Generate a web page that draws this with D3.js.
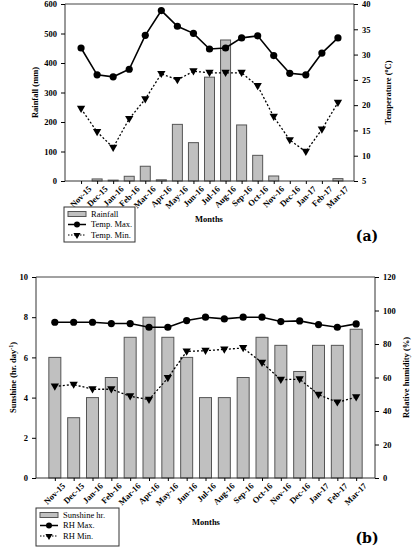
<!DOCTYPE html>
<html>
<head>
<meta charset="utf-8">
<script src="https://cdn.jsdelivr.net/npm/d3@7"></script>
<style>
  body { margin: 0; background: white; }
  text { font-family: "Liberation Serif", "Times New Roman", serif; }
</style>
</head>
<body>
<div id="chart"></div>
<script>
// months shared by both panels
let months = ["Nov-15","Dec-15","Jan-16","Feb-16","Mar-16","Apr-16","May-16","Jun-16","Jul-16",
  "Aug-16","Sep-16","Oct-16","Nov-16","Dec-16","Jan-17","Feb-17","Mar-17"];

// panel (a)
let rainfall = [0, 7, 3, 16, 50, 4, 192, 130, 352, 478, 190, 87, 17, 0, 0, 0, 8];
let tempMax = [31.3, 26.0, 25.6, 27.1, 33.8, 38.7, 35.6, 34.2, 31.1, 31.3, 33.3, 33.7, 29.8, 26.3, 26.0, 30.3, 33.3];
let tempMin = [19.3, 14.7, 11.6, 17.3, 21.2, 26.2, 25.0, 26.7, 26.4, 26.4, 26.4, 23.8, 17.7, 13.1, 10.8, 15.2, 20.5];
let rainTicks = [0, 100, 200, 300, 400, 500, 600];
let tempTicks = [5, 10, 15, 20, 25, 30, 35, 40];

// panel (b)
let sunshine = [6, 3, 4, 5, 7, 8, 7, 6, 4, 4, 5, 7, 6.6, 5.3, 6.6, 6.6, 7.4];
let rhMax = [93, 93, 93, 92.2, 92.2, 90, 90, 94, 96, 95, 96, 96, 93.4, 93.8, 91.6, 90, 92];
let rhMin = [54.7, 55.8, 53, 53, 48.8, 46.8, 59.7, 75.6, 76, 76.8, 77.6, 68.9, 58.7, 59, 49.8, 45.2, 48.2];
let sunTicks = [0, 2, 4, 6, 8, 10];
let rhTicks = [0, 20, 40, 60, 80, 100, 120];

let svg = d3.select("#chart").append("svg")
  .attr("width", 414)
  .attr("height", 550);

let triangle = d3.symbol().type(d3.symbolTriangle).size(30);

function panel(cfg) {
  let g = svg.append("g");
  let x = d3.scalePoint().domain(months).range([cfg.left, cfg.right]).padding(1);
  let yL = d3.scaleLinear().domain(cfg.leftDomain).range([cfg.bottom, cfg.top]);
  let yR = d3.scaleLinear().domain(cfg.rightDomain).range([cfg.bottom, cfg.top]);

  // bars
  g.selectAll(".bar")
    .data(cfg.bars)
    .enter().append("rect")
    .attr("x", (d, i) => x(months[i]) - cfg.barW / 2)
    .attr("width", cfg.barW)
    .attr("y", d => yL(d))
    .attr("height", d => cfg.bottom - yL(d))
    .attr("fill", "#c0c0c0")
    .attr("stroke", "#555")
    .attr("stroke-width", 1);

  // frame top line
  g.append("line")
    .attr("x1", cfg.left).attr("x2", cfg.right)
    .attr("y1", cfg.top).attr("y2", cfg.top)
    .attr("stroke", "#444").attr("stroke-width", 1);

  // axes
  let axL = g.append("g")
    .attr("transform", "translate(" + cfg.left + ",0)")
    .call(d3.axisLeft(yL).tickValues(cfg.leftTicks).tickSize(4).tickPadding(4));
  let axR = g.append("g")
    .attr("transform", "translate(" + cfg.right + ",0)")
    .call(d3.axisRight(yR).tickValues(cfg.rightTicks).tickSize(4).tickPadding(4));
  let axB = g.append("g")
    .attr("transform", "translate(0," + cfg.bottom + ")")
    .call(d3.axisBottom(x).tickSize(3).tickSizeOuter(0).tickPadding(2));

  [axL, axR].forEach(a => {
    a.select(".domain").attr("d", "M0," + cfg.bottom + "V" + cfg.top);
    a.selectAll("text").style("font-size", "8.5px").style("font-weight", "bold")
      .style("font-family", "Liberation Serif");
  });
  axB.select(".domain").attr("d", "M" + cfg.left + ",0H" + cfg.right);
  axB.selectAll("text")
    .style("font-size", "8.5px").style("font-weight", "bold")
    .style("font-family", "Liberation Serif")
    .attr("text-anchor", "end")
    .attr("transform", "translate(4,2) rotate(-45)")
    .attr("dy", "0.5em");
  g.selectAll(".domain").attr("stroke", "#333");

  // lines
  let lineMax = d3.line().x((d, i) => x(months[i])).y(d => yR(d));
  g.append("path").datum(cfg.maxVals)
    .attr("d", lineMax)
    .attr("fill", "none").attr("stroke", "black").attr("stroke-width", 1.6);
  g.append("path").datum(cfg.minVals)
    .attr("d", lineMax)
    .attr("fill", "none").attr("stroke", "black").attr("stroke-width", 1.3)
    .attr("stroke-dasharray", "2,2");

  g.selectAll(".dotMax")
    .data(cfg.maxVals)
    .enter().append("circle")
    .attr("cx", (d, i) => x(months[i]))
    .attr("cy", d => yR(d))
    .attr("r", 3.6)
    .attr("fill", "black");
  g.selectAll(".dotMin")
    .data(cfg.minVals)
    .enter().append("path")
    .attr("d", triangle)
    .attr("transform", (d, i) => "translate(" + x(months[i]) + "," + (yR(d) - 0.5) + ") rotate(180)")
    .attr("fill", "black");

  // axis titles
  let midY = (cfg.top + cfg.bottom) / 2;
  g.append("text")
    .attr("transform", "translate(" + cfg.leftTitleX + "," + midY + ") rotate(-90)")
    .attr("text-anchor", "middle")
    .style("font-size", "8.5px").style("font-weight", "bold")
    .html(cfg.leftTitle);
  g.append("text")
    .attr("transform", "translate(" + cfg.rightTitleX + "," + midY + ") rotate(-90)")
    .attr("text-anchor", "middle")
    .style("font-size", "8.5px").style("font-weight", "bold")
    .html(cfg.rightTitle);
  g.append("text")
    .attr("x", cfg.monthsX).attr("y", cfg.monthsY)
    .attr("text-anchor", "middle")
    .style("font-size", "8.5px").style("font-weight", "bold")
    .text("Months");

  // panel letter
  g.append("text")
    .attr("x", 367).attr("y", cfg.letterY)
    .attr("text-anchor", "middle")
    .style("font-family", "DejaVu Serif")
    .style("font-size", "14px").style("font-weight", "bold")
    .text(cfg.letter);

  // legend
  let lg = g.append("g").attr("transform", "translate(" + cfg.legX + "," + cfg.legY + ")");
  lg.append("rect")
    .attr("width", cfg.legW).attr("height", cfg.legH)
    .attr("fill", "white").attr("stroke", "#333").attr("stroke-width", 1);
  let rowY = [7, 17.5, 28];
  lg.append("rect").attr("x", 4).attr("y", rowY[0] - 2.5).attr("width", 18).attr("height", 5)
    .attr("fill", "#c0c0c0").attr("stroke", "#555");
  lg.append("line").attr("x1", 4).attr("x2", 22).attr("y1", rowY[1]).attr("y2", rowY[1])
    .attr("stroke", "black").attr("stroke-width", 1.5);
  lg.append("circle").attr("cx", 13).attr("cy", rowY[1]).attr("r", 3).attr("fill", "black");
  lg.append("line").attr("x1", 4).attr("x2", 22).attr("y1", rowY[2]).attr("y2", rowY[2])
    .attr("stroke", "black").attr("stroke-width", 1.2).attr("stroke-dasharray", "1.5,1.5");
  lg.append("path").attr("d", d3.symbol().type(d3.symbolTriangle).size(22))
    .attr("transform", "translate(13," + rowY[2] + ") rotate(180)").attr("fill", "black");
  lg.selectAll(".lt")
    .data(cfg.legLabels)
    .enter().append("text")
    .attr("x", 27).attr("y", (d, i) => rowY[i])
    .attr("dy", "0.35em")
    .style("font-size", "8.5px")
    .text(d => d);
}

panel({
  left: 65, right: 354, top: 4, bottom: 181,
  leftDomain: [0, 600], rightDomain: [5, 40],
  leftTicks: rainTicks, rightTicks: tempTicks,
  bars: rainfall, maxVals: tempMax, minVals: tempMin, barW: 10,
  leftTitle: "Rainfall (mm)", leftTitleX: 38,
  rightTitle: "Temperature (<tspan dy='-3' font-size='6px'>o</tspan><tspan dy='3'>C)</tspan>", rightTitleX: 391,
  monthsX: 209, monthsY: 222,
  letter: "(a)", letterY: 241,
  legX: 64, legY: 207, legW: 71, legH: 35,
  legLabels: ["Rainfall", "Temp. Max.", "Temp. Min."]
});

panel({
  left: 36, right: 375, top: 277, bottom: 478,
  leftDomain: [0, 10], rightDomain: [0, 120],
  leftTicks: sunTicks, rightTicks: rhTicks,
  bars: sunshine, maxVals: rhMax, minVals: rhMin, barW: 12,
  leftTitle: "Sunshine (hr. day<tspan dy='-3' font-size='6px'>-1</tspan><tspan dy='3'>)</tspan>", leftTitleX: 16,
  rightTitle: "Relative humidity (%)", rightTitleX: 409,
  monthsX: 206, monthsY: 525,
  letter: "(b)", letterY: 543,
  legX: 36, legY: 508, legW: 83, legH: 38,
  legLabels: ["Sunshine hr.", "RH Max.", "RH Min."]
});
</script>
</body>
</html>
